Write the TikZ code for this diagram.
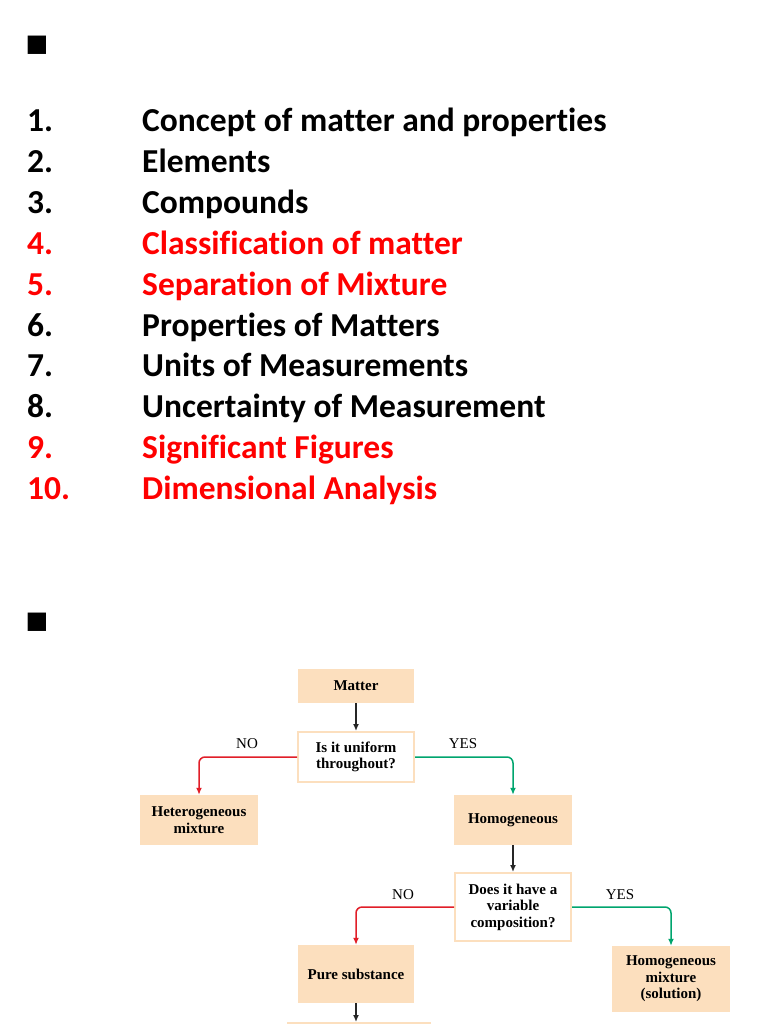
\documentclass[tikz,border=0pt]{standalone}
\usepackage{fontspec}
\setmainfont[Ligatures={NoCommon}]{Carlito}
\newfontfamily\serifb{Liberation Serif}
\newfontfamily\djv{DejaVu Sans}
\usetikzlibrary{arrows.meta}
\definecolor{peach}{RGB}{252,223,190}
\definecolor{myred}{RGB}{255,0,0}
\definecolor{arrred}{RGB}{225,30,40}
\definecolor{arrgreen}{RGB}{0,165,110}
\tikzset{
 item/.style={anchor=base west,font=\fontsize{33.5}{36}\selectfont\bfseries,inner sep=0pt},
 box/.style={fill=peach,minimum width=116pt,align=center,font=\serifb\fontsize{15}{16.5}\selectfont\bfseries,inner sep=2pt},
 qbox/.style={box,fill=white,draw=peach,line width=2pt},
 lab/.style={font=\serifb\fontsize{15}{16}\selectfont},
 blk/.style={-{Latex[length=7pt,width=6pt]},line width=1.5pt,black!85},
 rd/.style={-{Latex[length=7pt,width=6pt]},line width=1.5pt,arrred,rounded corners=6pt},
 gr/.style={-{Latex[length=7pt,width=6pt]},line width=1.5pt,arrgreen,rounded corners=6pt},
}
\begin{document}
\begin{tikzpicture}[x=1pt,y=-1pt]
\useasboundingbox (0,0) rectangle (768,1024);
\fill[white] (0,0) rectangle (768,1024);
\node[font=\djv\fontsize{24}{24}\selectfont] (b1) at (37,45) {■};
\node[font=\djv\fontsize{24}{24}\selectfont] (b2) at (37,622) {■};
\foreach \n/\t/\c [count=\i] in {1./Concept of matter and properties/black,2./Elements/black,3./Compounds/black,4./Classification of matter/myred,5./Separation of Mixture/myred,6./Properties of Matters/black,7./Units of Measurements/black,8./Uncertainty of Measurement/black,9./Significant Figures/myred,10./Dimensional Analysis/myred}{
 \node[item,text=\c] (n\i) at (27,{132+40.8*(\i-1)}) {\n};
 \node[item,text=\c] (t\i) at (142,{132+40.8*(\i-1)}) {\t};
}
\node[box,minimum height=34pt] (matter) at (356,686) {Matter};
\node[qbox,minimum height=50pt] (unif) at (356,757) {Is it uniform\\throughout?};
\node[box,minimum width=118pt,minimum height=50pt] (het) at (199,820) {Heterogeneous\\mixture};
\node[box,minimum width=118pt,minimum height=50pt] (hom) at (513,820) {Homogeneous};
\node[qbox,minimum height=68pt] (var) at (513,907) {Does it have a\\variable\\composition?};
\node[box,minimum height=58pt] (pure) at (356,974) {Pure substance};
\node[box,minimum width=118pt,minimum height=66pt] (sol) at (671,979) {Homogeneous\\mixture\\(solution)};
\node[box,minimum width=144pt,minimum height=30pt,anchor=north] (next) at (359,1022) {};
\draw[blk] (matter) -- (unif);
\draw[rd] (unif.west) -| (het.north);
\draw[gr] (unif.east) -| (hom.north);
\draw[blk] (hom) -- (var);
\draw[rd] (var.west) -| (pure.north);
\draw[gr] (var.east) -| (sol.north);
\draw[blk] (pure.south) -- (pure.south |- next.north);
\node[lab] (no1) at (247,744) {NO};
\node[lab] (yes1) at (463,744) {YES};
\node[lab] (no2) at (403,895) {NO};
\node[lab] (yes2) at (620,895) {YES};
\end{tikzpicture}
\end{document}
